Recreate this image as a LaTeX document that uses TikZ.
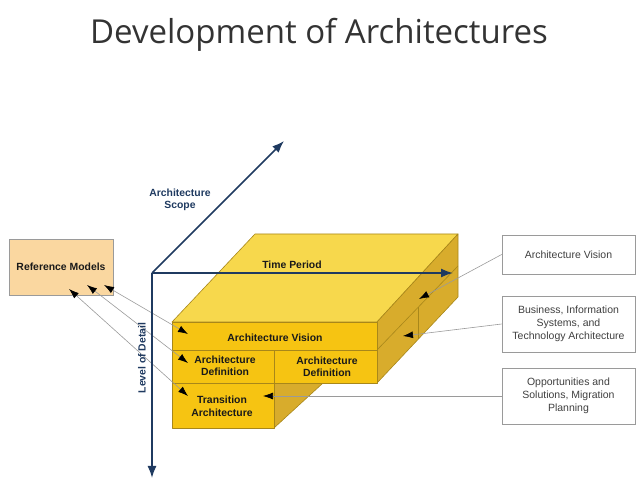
\documentclass[tikz,border=0pt]{standalone}
\usepackage{fontspec}
\setmainfont{Liberation Sans}
\newfontfamily\titlefont{Open Sans}
\usetikzlibrary{arrows.meta}
\definecolor{navy}{HTML}{1F3A60}
\definecolor{frontc}{HTML}{F6C412}
\definecolor{topc}{HTML}{F7D84C}
\definecolor{sidec}{HTML}{D8AC2C}
\definecolor{edgec}{HTML}{A8871A}
\definecolor{refc}{HTML}{FAD7A0}
\definecolor{linec}{HTML}{9A9A9A}
\definecolor{txtc}{HTML}{404040}
\definecolor{labc}{HTML}{1A1A1A}
\definecolor{titlec}{HTML}{333333}
\begin{document}
\begin{tikzpicture}[x=1pt,y=-1pt,
  face/.style={draw=edgec, line width=0.6pt, line join=round},
  blocklabel/.style={font=\bfseries\fontsize{10.4}{12.5}\selectfont, text=labc, align=center, inner sep=0pt},
  axislabel/.style={font=\bfseries\fontsize{10.4}{12.5}\selectfont, text=navy, align=center, inner sep=0pt},
  axisline/.style={draw=navy, line width=1.6pt, -{Latex[length=12pt,width=9pt]}},
  infobox/.style={draw=linec, fill=white, line width=0.7pt, minimum width=133pt, align=center, font=\fontsize{10.5}{12.8}\selectfont, text=txtc},
  link/.style={draw=linec, line width=0.6pt},
  headend/.style={-{Latex[length=10pt,width=7pt,color=black]}},
  bothheads/.style={{Latex[length=10pt,width=7pt,color=black]}-{Latex[length=10pt,width=7pt,color=black]}},
]
\useasboundingbox (0,0) rectangle (638,478);

% title
\node[font=\titlefont\fontsize{33}{40}\selectfont, text=titlec, anchor=base, inner sep=0pt] (title) at (319,44) {Development of Architectures};

% block corners
\coordinate (FTL) at (172,322);
\coordinate (FTR) at (377,322);
\coordinate (BTL) at (255,234);
\coordinate (BTR) at (458,234);
\coordinate (BBR) at (458,297);
\coordinate (FBR) at (377,383);

% top face
\filldraw[face, fill=topc] (FTL) -- (BTL) -- (BTR) -- (FTR) -- cycle;
% right side face
\filldraw[face, fill=sidec] (FTR) -- (BTR) -- (BBR) -- (FBR) -- cycle;
\draw[face] (377,350) -- (458,266);
\draw[face] (418,307.5) -- (418,339.5);
% transition side face
\filldraw[face, fill=sidec] (274,383) -- (323,383) -- (274,428) -- cycle;
% front faces
\filldraw[face, fill=frontc] (172,322) rectangle (377,350);
\filldraw[face, fill=frontc] (172,350) rectangle (274,383);
\filldraw[face, fill=frontc] (274,350) rectangle (377,383);
\filldraw[face, fill=frontc] (172,383) rectangle (274,428);

% block labels
\node[blocklabel] (av) at (275,338) {Architecture Vision};
\node[blocklabel] (ad1) at (225,366) {Architecture\\Definition};
\node[blocklabel] (ad2) at (327,367) {Architecture\\Definition};
\node[blocklabel] (ta) at (222,406.5) {Transition\\Architecture};

% reference models
\node[draw=linec, fill=refc, line width=0.7pt, minimum width=104pt, minimum height=56pt, font=\bfseries\fontsize{10.4}{12.5}\selectfont, text=labc] (ref) at (61,267) {Reference Models};

\coordinate (r1) at (104,285);
\coordinate (r2) at (87,285);
\coordinate (r3) at (69,289);
\coordinate (a1) at (188,334);
\coordinate (a2) at (188,363);
\coordinate (a3) at (188,396);
\draw[link, bothheads] (r1) -- (a1);
\draw[link, bothheads] (r2) -- (a2);
\draw[link, bothheads] (r3) -- (a3);

% right boxes
\node[infobox, minimum height=39pt] (bv) at (568.5,254.5) {Architecture Vision};
\node[infobox, minimum height=56pt] (bb) at (568.5,324) {Business, Information\\Systems, and\\Technology Architecture};
\node[infobox, minimum height=56pt] (bo) at (568.5,396) {Opportunities and\\Solutions, Migration\\Planning};

\coordinate (tv) at (419,299);
\coordinate (tb) at (403,336);
\coordinate (tt) at (263,396);
\draw[link, headend] (bv.west) -- (tv);
\draw[link, headend] (bb.west) -- (tb);
\draw[link, headend] (bo.west) -- (tt);

% axes
\coordinate (O) at (152,273);
\coordinate (xend) at (453,273);
\coordinate (yend) at (284,141);
\coordinate (zend) at (152,478);
\draw[axisline] (O) -- (xend);
\draw[axisline] (O) -- (yend);
\draw[axisline] (O) -- (zend);

% axis labels
\node[axislabel] (scope) at (180,200) {Architecture\\Scope};
\node[blocklabel] (time) at (292,265) {Time Period};
\node[axislabel, rotate=90] (lod) at (142,358) {Level of Detail};
\end{tikzpicture}
\end{document}
